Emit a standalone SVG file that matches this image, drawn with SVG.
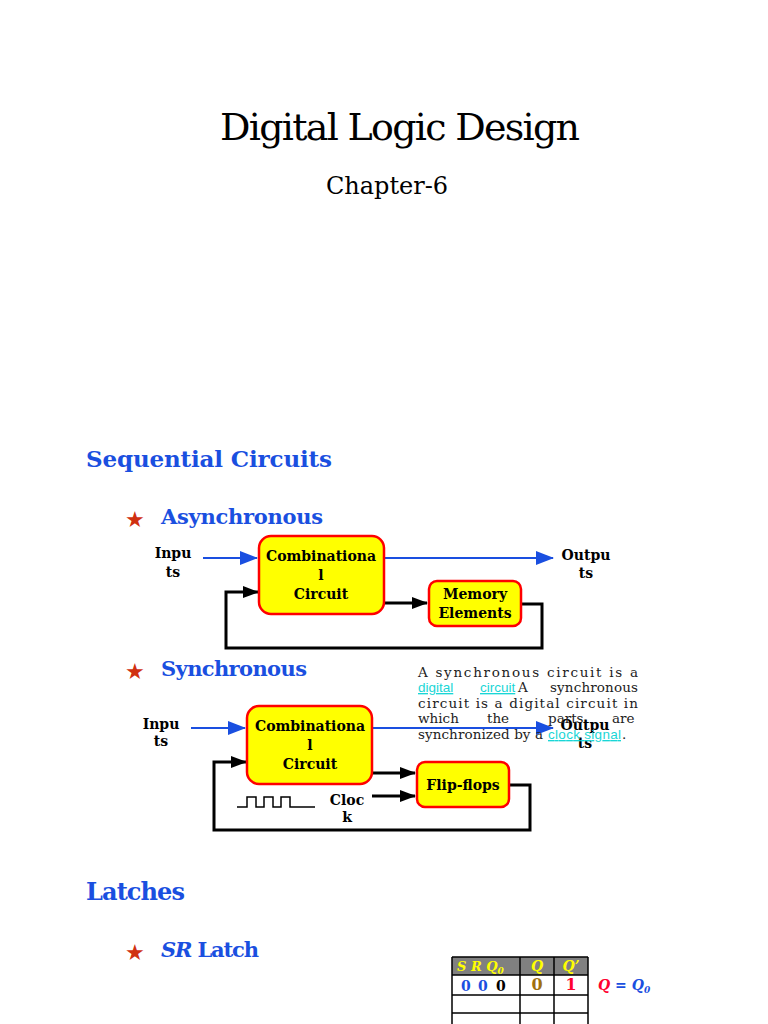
<svg xmlns="http://www.w3.org/2000/svg" width="768" height="1024" viewBox="0 0 768 1024">
<style>
.t{font-family:"DejaVu Serif","Noto Serif",serif;fill:#000}
.h{font-family:"DejaVu Serif",serif;font-weight:bold;fill:#1a4fe0}
.b{font-family:"DejaVu Serif",serif;font-weight:bold;font-size:14px;fill:#000;text-anchor:middle}
.box{fill:#ffff00;stroke:#ff0000;stroke-width:2.5}
.k{stroke:#000;stroke-width:3;fill:none}
.bl{stroke:#1a4fe0;stroke-width:2;fill:none}
.p{font-family:"DejaVu Serif",serif;font-size:13.5px;fill:#222}
.lk{font-family:"Liberation Sans",sans-serif;font-size:13.5px;fill:#19d6d6;text-decoration:underline}
.star{fill:#d03010}
</style>
<defs>
<marker id="ak" markerWidth="16" markerHeight="12" refX="15" refY="6" orient="auto" markerUnits="userSpaceOnUse" viewBox="0 0 16 12"><path d="M0,0L16,6L0,12z" fill="#000"/></marker>
<marker id="ab" markerWidth="18" markerHeight="14" refX="17" refY="7" orient="auto" markerUnits="userSpaceOnUse" viewBox="0 0 18 14"><path d="M0,0L18,7L0,14z" fill="#1a4fe0"/></marker>
</defs>
<rect width="768" height="1024" fill="#fff"/>
<text class="t" x="400" y="140" font-size="38" text-anchor="middle" textLength="360">Digital Logic Design</text>
<text class="t" x="387" y="194" font-size="24" text-anchor="middle">Chapter-6</text>
<text class="h" x="86" y="467" font-size="23" textLength="246">Sequential Circuits</text>
<text class="star" x="125" y="527" font-size="22">★</text>
<text class="h" x="161" y="524" font-size="21" textLength="162">Asynchronous</text>
<text class="star" x="125" y="679" font-size="22">★</text>
<text class="h" x="161" y="676" font-size="21" textLength="146">Synchronous</text>
<text class="h" x="86" y="900" font-size="24" textLength="99">Latches</text>
<text class="star" x="125" y="960" font-size="22">★</text>
<text class="h" x="161" y="957" font-size="21" textLength="98"><tspan font-style="italic">SR</tspan> Latch</text>

<g id="connectors">
<path class="bl" d="M203,558H257" marker-end="url(#ab)"/>
<path class="bl" d="M384,558H553" marker-end="url(#ab)"/>
<path class="k" d="M383,603H427" marker-end="url(#ak)"/>
<path class="k" d="M521,604H542V648H226V592H258" marker-end="url(#ak)"/>
<path class="bl" d="M191,728H245" marker-end="url(#ab)"/>
<path class="bl" d="M372,728H553" marker-end="url(#ab)"/>
<path class="k" d="M372,773H415" marker-end="url(#ak)"/>
<path class="k" d="M372,796H415" marker-end="url(#ak)"/>
<path class="k" d="M509,785H530V830H214V762H246" marker-end="url(#ak)"/>
<path d="M237,807H247V797H256V807H264V797H273V807H281V797H290V807H315" stroke="#000" stroke-width="1.5" fill="none"/>
</g>

<g id="n-inputs1"><text class="b" x="173" y="558">Inpu</text><text class="b" x="173" y="577">ts</text></g>
<g id="n-comb1"><rect class="box" x="259" y="536" width="125" height="78" rx="12"/><text class="b" x="321" y="561">Combinationa</text><text class="b" x="321" y="580">l</text><text class="b" x="321" y="599">Circuit</text></g>
<g id="n-mem"><rect class="box" x="429" y="581" width="92" height="45" rx="8"/><text class="b" x="475" y="599">Memory</text><text class="b" x="475" y="618">Elements</text></g>
<g id="n-out1"><text class="b" x="586" y="560">Outpu</text><text class="b" x="586" y="578">ts</text></g>

<g id="n-inputs2"><text class="b" x="161" y="729">Inpu</text><text class="b" x="161" y="746">ts</text></g>
<g id="n-comb2"><rect class="box" x="247" y="706" width="125" height="78" rx="12"/><text class="b" x="310" y="731">Combinationa</text><text class="b" x="310" y="750">l</text><text class="b" x="310" y="769">Circuit</text></g>
<g id="n-ff"><rect class="box" x="417" y="762" width="92" height="45" rx="8"/><text class="b" x="463" y="790">Flip-flops</text></g>
<g id="n-clock"><text class="b" x="347" y="805">Cloc</text><text class="b" x="347" y="822">k</text></g>
<g id="n-out2"><text class="b" x="585" y="730">Outpu</text><text class="b" x="585" y="748">ts</text></g>

<g id="para">
<text class="p" x="418" y="677" textLength="220">A synchronous circuit is a</text>
<text class="lk" x="418" y="692">digital</text><text class="lk" x="480" y="692">circuit</text><text class="p" x="518" y="692">A</text><text class="p" x="550" y="692" textLength="88">synchronous</text>
<text class="p" x="418" y="708" textLength="220">circuit is a digital circuit in</text>
<text class="p" x="418" y="723">which</text><text class="p" x="487" y="723">the</text><text class="p" x="548" y="723">parts</text><text class="p" x="612" y="723">are</text>
<text class="p" x="418" y="739" textLength="125">synchronized by a</text><text class="lk" x="548" y="739" textLength="73">clock signal</text><text class="p" x="622" y="739">.</text>
</g>

<g id="table" font-family="DejaVu Serif,serif" font-weight="bold" font-size="14">
<rect x="452" y="957" width="136" height="18" fill="#808080"/>
<path d="M452,957H588M452,975H588M452,995H588M452,1013H588M452,957V1024M520,957V1024M554,957V1024M588,957V1024" stroke="#000" stroke-width="1.5" fill="none"/>
<text x="457" y="971" fill="#ffff00" font-style="italic" font-size="13">S  R  Q<tspan font-size="9" dy="3">0</tspan></text>
<text x="537" y="971" fill="#ffff00" font-style="italic" text-anchor="middle">Q</text>
<text x="571" y="971" fill="#ffff00" font-style="italic" text-anchor="middle">Q’</text>
<text x="461" y="991" fill="#1a4fe0">0</text><text x="478" y="991" fill="#1a4fe0">0</text><text x="496" y="991" fill="#000">0</text>
<text x="537" y="990" fill="#a07010" text-anchor="middle" font-size="16">0</text>
<text x="571" y="990" fill="#ff0030" text-anchor="middle" font-size="16">1</text>
<text x="598" y="990" font-style="italic"><tspan fill="#ff0030">Q</tspan><tspan fill="#1a4fe0"> = Q</tspan><tspan fill="#1a4fe0" font-size="9" dy="3">0</tspan></text>
</g>
</svg>
